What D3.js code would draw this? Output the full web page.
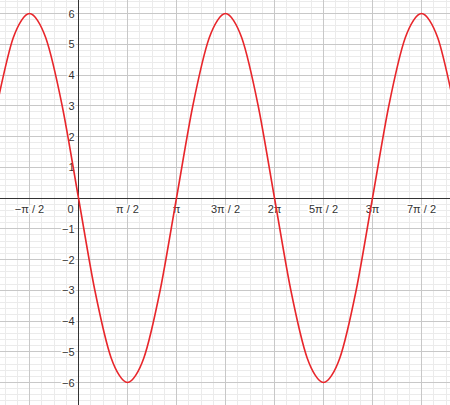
<!DOCTYPE html>
<html><head><meta charset="utf-8">
<script src="https://cdn.jsdelivr.net/npm/d3@7"></script>
<style>body{margin:0;background:#fff}svg{display:block}text{font-family:Arial,"Liberation Sans",sans-serif;font-size:11px}</style>
</head><body>
<script>
// x in units of pi/6, y values
var xSteps = [-5,-4,-3,-2,-1,0,1,2,3,4,5,6,7,8,9,10,11,12,13,14,15,16,17,18,19,20,21,22,23];
var yVals = [3,5.2,6,5.2,3,0,-3,-5.2,-6,-5.2,-3,0,3,5.2,6,5.2,3,0,-3,-5.2,-6,-5.2,-3,0,3,5.2,6,5.2,3];
var xTickLabels = ["\u2212\u03c0 / 2","0","\u03c0 / 2","\u03c0","3\u03c0 / 2","2\u03c0","5\u03c0 / 2","3\u03c0","7\u03c0 / 2"];
var yTicks = [-6,-5,-4,-3,-2,-1,1,2,3,4,5,6];

var W = 450, H = 405, PI = Math.PI;
var x = d3.scaleLinear().domain([0, PI]).range([78.5, 176.5]);
var y = d3.scaleLinear().domain([0, 6]).range([198, 13.5]);
var svg = d3.select("body").append("svg").attr("width", W).attr("height", H);

// grid
var x0 = x.invert(0), x1 = x.invert(W), y0 = y.invert(H), y1 = y.invert(0);
var minorX = d3.range(Math.ceil(x0 / (PI / 8)), Math.floor(x1 / (PI / 8)) + 1).map(function(k) { return k * PI / 8; });
var minorY = d3.range(Math.ceil(y0 / 0.2), Math.floor(y1 / 0.2) + 1).map(function(k) { return k * 0.2; });
svg.selectAll(".mx").data(minorX).enter().append("line")
    .attr("x1", function(d) { return x(d); }).attr("x2", function(d) { return x(d); })
    .attr("y1", 0).attr("y2", H).attr("stroke", "#ebebeb").attr("shape-rendering", "crispEdges");
svg.selectAll(".my").data(minorY).enter().append("line")
    .attr("y1", function(d) { return y(d); }).attr("y2", function(d) { return y(d); })
    .attr("x1", 0).attr("x2", W).attr("stroke", "#ebebeb").attr("shape-rendering", "crispEdges");
var majorX = d3.range(-2, 8).map(function(k) { return k * PI / 2; });
var majorY = d3.range(-7, 8);
svg.selectAll(".Mx").data(majorX).enter().append("line")
    .attr("x1", function(d) { return x(d); }).attr("x2", function(d) { return x(d); })
    .attr("y1", 0).attr("y2", H).attr("stroke", "#c8c8c8").attr("shape-rendering", "crispEdges");
svg.selectAll(".My").data(majorY).enter().append("line")
    .attr("y1", function(d) { return y(d); }).attr("y2", function(d) { return y(d); })
    .attr("x1", 0).attr("x2", W).attr("stroke", "#c8c8c8").attr("shape-rendering", "crispEdges");

// axes
svg.append("line").attr("x1", 0).attr("x2", W).attr("y1", y(0)).attr("y2", y(0)).attr("stroke", "#333").attr("shape-rendering", "crispEdges");
svg.append("line").attr("x1", x(0)).attr("x2", x(0)).attr("y1", 0).attr("y2", H).attr("stroke", "#333").attr("shape-rendering", "crispEdges");

// labels
svg.selectAll(".xl").data(xTickLabels).enter().append("text")
    .attr("x", function(d, i) { return i == 1 ? x(0) - 8 : x((i - 1) * PI / 2); })
    .attr("y", y(0) + 15).attr("text-anchor", "middle").attr("fill", "#333")
    .style("paint-order", "stroke").attr("stroke", "#fff").attr("stroke-width", 3)
    .text(function(d) { return d; });
svg.selectAll(".yl").data(yTicks).enter().append("text")
    .attr("x", x(0) - 4).attr("y", function(d) { return y(d) + 4; })
    .attr("text-anchor", "end").attr("fill", "#333")
    .style("paint-order", "stroke").attr("stroke", "#fff").attr("stroke-width", 3)
    .text(function(d) { return d < 0 ? "\u2212" + (-d) : d; });

// curve
var line = d3.line()
    .x(function(d, i) { return x(xSteps[i] * PI / 6); })
    .y(function(d) { return y(d); })
    .curve(d3.curveCardinal.tension(0.1));
svg.append("path").datum(yVals).attr("d", line)
    .attr("fill", "none").attr("stroke", "#e8262b").attr("stroke-width", 1.6);
</script>
</body></html>
